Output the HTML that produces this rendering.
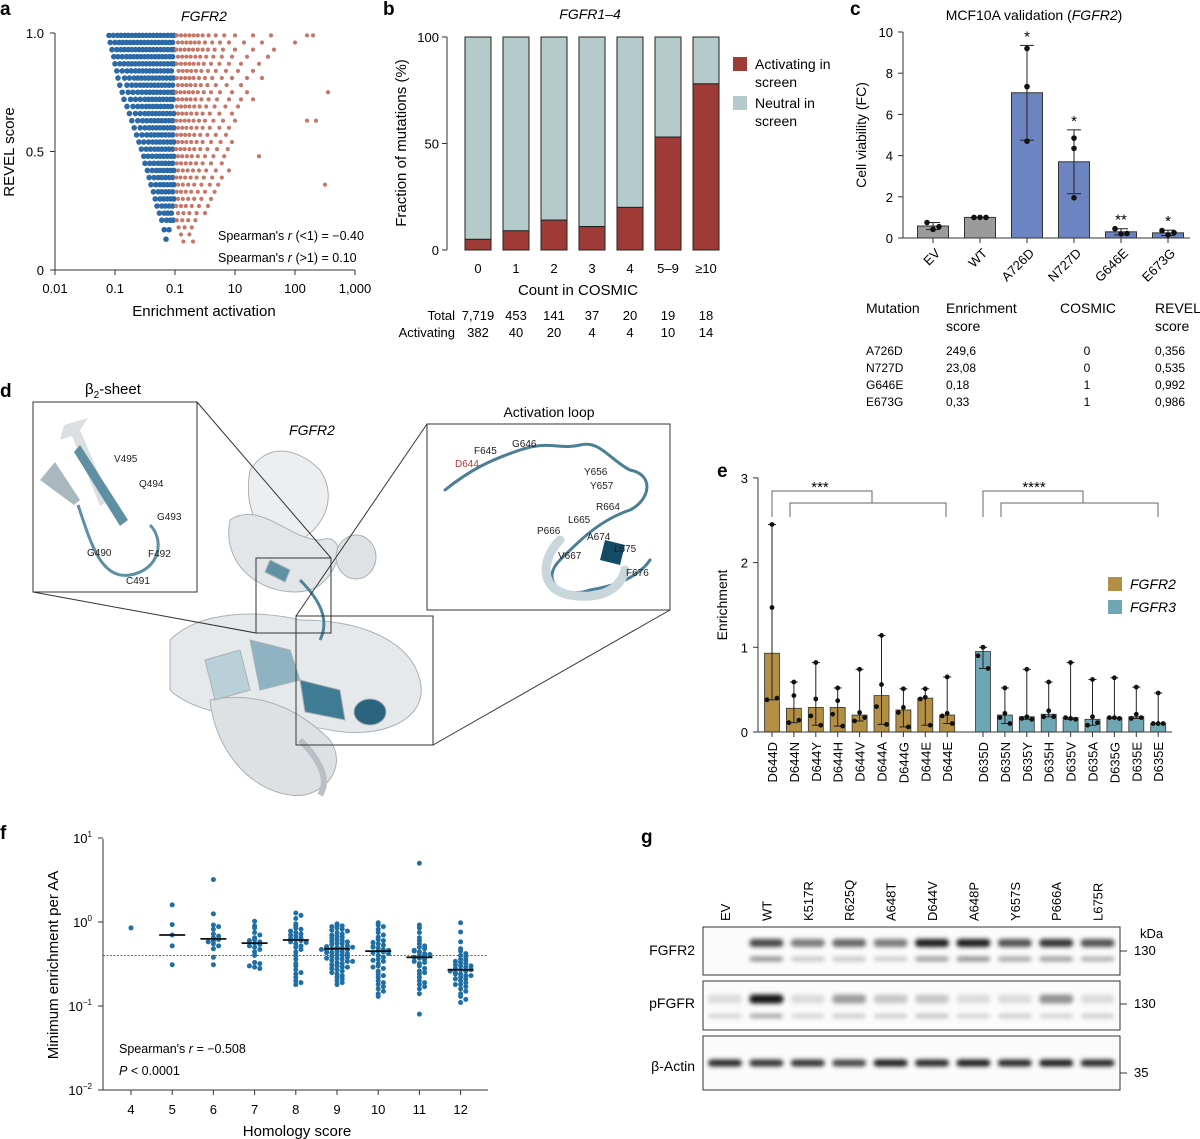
<!DOCTYPE html>
<html><head><meta charset="utf-8"><style>
html,body{margin:0;padding:0;background:#fff;}
svg{display:block;font-family:"Liberation Sans",sans-serif;}
</style></head><body>
<svg id="fig" width="1200" height="1139" viewBox="0 0 1200 1139" xmlns="http://www.w3.org/2000/svg">
<g id="pa"></g>
<g id="pb"></g>
<g id="pc"></g>
<g id="pd">
  <text x="0" y="397" font-size="19" font-weight="bold">d</text>
  <text x="85" y="394" font-size="15">β<tspan font-size="10" dy="4">2</tspan><tspan dy="-4">-sheet</tspan></text>
  <text x="312" y="435" font-size="14" font-style="italic" text-anchor="middle">FGFR2</text>
  <text x="549" y="417" font-size="14" text-anchor="middle">Activation loop</text>
  <g stroke="#a9b1b5" stroke-width="1">
    <path d="M250 470 C270 440 300 450 320 470 C340 500 320 530 300 540 C280 550 240 530 250 470Z" fill="#eceef0"/>
    <path d="M230 520 C260 500 290 540 320 540 C350 530 340 580 310 590 C270 600 220 570 230 520Z" fill="#e3e6e8"/>
    <ellipse cx="356" cy="557" rx="20" ry="22" fill="#dfe2e4"/>
    <path d="M170 640 C200 610 260 610 300 620 C360 620 410 640 420 680 C430 720 380 740 330 730 C280 720 200 720 170 690Z" fill="#e6e9eb"/>
    <path d="M210 700 C260 690 300 710 330 740 C350 770 320 800 290 795 C250 790 215 750 210 700Z" fill="#dde1e4"/>
    <path d="M250 640 L290 650 L300 680 L260 690Z" fill="#8fb3c2"/>
    <path d="M300 680 L340 690 L345 720 L305 712Z" fill="#3f7c94"/>
    <ellipse cx="370" cy="712" rx="16" ry="13" fill="#2a647d"/>
    <path d="M270 560 L290 570 L285 582 L265 572Z" fill="#5f91a5"/>
    <path d="M205 660 L240 650 L250 690 L215 700Z" fill="#b9d0d9"/>
    <path d="M300 740 C320 760 330 780 320 795" fill="none" stroke="#b7c0c4" stroke-width="6"/>
    <path d="M300 580 C320 600 330 620 320 640" fill="none" stroke="#4e8499" stroke-width="3"/>
  </g>
  <g fill="none" stroke="#333" stroke-width="1">
    <rect x="33" y="402" width="164" height="190"/>
    <rect x="427" y="424" width="243" height="186"/>
    <rect x="256" y="558" width="75" height="75"/>
    <rect x="296" y="616" width="137" height="129"/>
    <line x1="197" y1="402" x2="331" y2="558"/><line x1="33" y1="592" x2="256" y2="633"/>
    <line x1="427" y1="424" x2="296" y2="616"/><line x1="670" y1="610" x2="433" y2="745"/>
  </g>
  <g>
    <path d="M64 425 L88 418 L80 430 L110 500 L100 506 L72 436 L60 440Z" fill="#dcdfe1"/>
    <path d="M80 445 L128 520 L120 526 L74 452Z" fill="#5f8fa2"/>
    <path d="M40 480 L55 462 L80 500 L74 505 Z" fill="#a9b8bf"/>
    <path d="M78 505 C90 540 100 580 130 575 C160 570 165 540 150 525" fill="none" stroke="#5f8fa2" stroke-width="3"/>
  </g>
  <g font-size="10" fill="#222">
    <text x="114" y="462">V495</text><text x="139" y="487">Q494</text><text x="157" y="520">G493</text>
    <text x="87" y="556">G490</text><text x="148" y="557">F492</text><text x="126" y="584">C491</text>
  </g>
  <g fill="none" stroke-linecap="round">
    <path d="M445 490 C470 470 490 460 520 450 C550 440 560 450 580 445 C600 440 610 460 630 470 C655 475 650 500 630 510 C600 520 580 540 560 560 C540 580 560 600 590 590 C620 585 640 575 650 560" stroke="#4a7f95" stroke-width="3"/>
    <path d="M560 540 C540 560 540 590 570 595 C600 600 620 590 625 570" stroke="#c9d6dc" stroke-width="9"/>
    <path d="M605 540 L625 545 L620 565 L600 560Z" fill="#124b63" stroke="none"/>
  </g>
  <g font-size="10" fill="#222">
    <text x="474" y="454">F645</text><text x="512" y="447">G646</text><text x="455" y="467" fill="#b03a35">D644</text>
    <text x="584" y="475">Y656</text><text x="590" y="489">Y657</text><text x="596" y="510">R664</text>
    <text x="568" y="523">L665</text><text x="537" y="534">P666</text><text x="587" y="540">A674</text>
    <text x="614" y="552">L675</text><text x="558" y="559">V667</text><text x="626" y="576">F676</text>
  </g>
</g>
<g id="pe"></g>
<g id="pf"></g>
<g id="pg"></g>
</svg>
<script>
// ===== Panel a data: rows of [REVEL score, [log10 enrichment values]] =====
const aBlueRows = [
[0.99,[-1.1,-1.03,-0.96,-0.9,-0.84,-0.78,-0.72,-0.66,-0.6,-0.54,-0.48,-0.42,-0.36,-0.3,-0.24,-0.18,-0.12,-0.06,-0.02]],
[0.96,[-1.08,-1.0,-0.93,-0.87,-0.81,-0.75,-0.69,-0.63,-0.57,-0.51,-0.45,-0.39,-0.33,-0.27,-0.21,-0.15,-0.09,-0.04]],
[0.93,[-1.05,-0.97,-0.9,-0.84,-0.78,-0.72,-0.66,-0.6,-0.54,-0.48,-0.42,-0.36,-0.3,-0.24,-0.18,-0.12,-0.06,-0.02]],
[0.90,[-1.02,-0.95,-0.88,-0.81,-0.75,-0.69,-0.63,-0.57,-0.51,-0.45,-0.39,-0.33,-0.27,-0.21,-0.15,-0.09,-0.04]],
[0.87,[-1.0,-0.92,-0.85,-0.78,-0.72,-0.66,-0.6,-0.54,-0.48,-0.42,-0.36,-0.3,-0.24,-0.18,-0.12,-0.06,-0.02]],
[0.84,[-0.97,-0.88,-0.8,-0.73,-0.66,-0.6,-0.54,-0.48,-0.42,-0.36,-0.3,-0.24,-0.18,-0.12,-0.06]],
[0.81,[-0.95,-0.84,-0.76,-0.68,-0.62,-0.56,-0.5,-0.44,-0.38,-0.32,-0.26,-0.2,-0.14,-0.08,-0.03]],
[0.78,[-0.92,-0.8,-0.72,-0.65,-0.58,-0.52,-0.46,-0.4,-0.34,-0.28,-0.22,-0.16,-0.1,-0.04]],
[0.75,[-0.88,-0.78,-0.7,-0.62,-0.55,-0.48,-0.42,-0.36,-0.3,-0.24,-0.18,-0.12,-0.06,-0.02]],
[0.72,[-0.85,-0.74,-0.66,-0.58,-0.5,-0.44,-0.38,-0.32,-0.26,-0.2,-0.14,-0.08,-0.03]],
[0.69,[-0.8,-0.7,-0.62,-0.55,-0.48,-0.42,-0.36,-0.3,-0.24,-0.18,-0.12,-0.06]],
[0.66,[-0.76,-0.66,-0.58,-0.5,-0.44,-0.38,-0.32,-0.26,-0.2,-0.14,-0.08,-0.02]],
[0.63,[-0.72,-0.62,-0.54,-0.47,-0.4,-0.34,-0.28,-0.22,-0.16,-0.1,-0.04]],
[0.60,[-0.68,-0.58,-0.5,-0.43,-0.37,-0.31,-0.25,-0.19,-0.13,-0.07,-0.02]],
[0.57,[-0.64,-0.55,-0.47,-0.4,-0.34,-0.28,-0.22,-0.16,-0.1,-0.04]],
[0.54,[-0.6,-0.52,-0.44,-0.37,-0.31,-0.25,-0.19,-0.13,-0.07,-0.02]],
[0.51,[-0.56,-0.48,-0.41,-0.34,-0.28,-0.22,-0.16,-0.1,-0.04]],
[0.48,[-0.52,-0.45,-0.38,-0.31,-0.25,-0.19,-0.13,-0.07,-0.02]],
[0.45,[-0.5,-0.42,-0.35,-0.28,-0.22,-0.16,-0.1,-0.04]],
[0.42,[-0.46,-0.38,-0.31,-0.25,-0.19,-0.13,-0.07,-0.02]],
[0.39,[-0.43,-0.35,-0.28,-0.22,-0.16,-0.1,-0.04]],
[0.36,[-0.4,-0.32,-0.25,-0.19,-0.13,-0.07,-0.02]],
[0.33,[-0.36,-0.28,-0.22,-0.16,-0.1,-0.04]],
[0.30,[-0.33,-0.25,-0.19,-0.13,-0.07,-0.02]],
[0.27,[-0.3,-0.22,-0.16,-0.1,-0.04]],
[0.24,[-0.26,-0.18,-0.12,-0.06]],
[0.21,[-0.22,-0.14,-0.08,-0.03]],
[0.17,[-0.18,-0.1]],
[0.13,[-0.15]]];
const aRedRows = [
[0.99,[0.03,0.1,0.17,0.24,0.31,0.38,0.46,0.56,0.68,0.82,1.0,1.3,1.6,2.2,2.3]],
[0.96,[0.05,0.12,0.19,0.26,0.33,0.4,0.5,0.62,0.75,0.9,1.15,1.45,2.0]],
[0.93,[0.02,0.09,0.16,0.23,0.3,0.38,0.46,0.55,0.66,0.8,1.0,1.3,1.65]],
[0.90,[0.05,0.12,0.19,0.26,0.34,0.42,0.52,0.64,0.78,0.95,1.2,1.55]],
[0.87,[0.03,0.1,0.17,0.24,0.31,0.39,0.48,0.6,0.74,0.9,1.1,1.4]],
[0.84,[0.06,0.13,0.2,0.27,0.35,0.44,0.55,0.68,0.85,1.05,1.3]],
[0.81,[0.03,0.1,0.17,0.24,0.31,0.4,0.5,0.62,0.78,0.95,1.2,1.45]],
[0.78,[0.05,0.12,0.19,0.26,0.34,0.43,0.54,0.68,0.86,1.1]],
[0.75,[0.02,0.09,0.16,0.23,0.3,0.38,0.48,0.6,0.75,0.95,1.2,2.55]],
[0.72,[0.05,0.12,0.19,0.26,0.34,0.44,0.56,0.7,0.9,1.1,1.3]],
[0.69,[0.03,0.1,0.17,0.24,0.32,0.41,0.52,0.66,0.84,1.05]],
[0.66,[0.05,0.12,0.19,0.27,0.36,0.46,0.58,0.74,0.95]],
[0.63,[0.02,0.09,0.16,0.23,0.31,0.4,0.5,0.64,0.8,1.0,2.2,2.35]],
[0.60,[0.05,0.12,0.19,0.27,0.36,0.46,0.58,0.74,0.9]],
[0.57,[0.03,0.1,0.17,0.24,0.32,0.42,0.54,0.68,0.85]],
[0.54,[0.05,0.12,0.19,0.27,0.36,0.46,0.6,0.76,0.95]],
[0.51,[0.02,0.09,0.16,0.24,0.32,0.42,0.54,0.7,0.88]],
[0.48,[0.05,0.12,0.2,0.28,0.38,0.5,0.64,0.82,1.4]],
[0.45,[0.03,0.1,0.18,0.26,0.35,0.46,0.6,0.78]],
[0.42,[0.05,0.13,0.21,0.3,0.4,0.52,0.68,0.9]],
[0.39,[0.02,0.09,0.17,0.26,0.36,0.48,0.62,0.78]],
[0.36,[0.05,0.13,0.22,0.32,0.44,0.58,0.72,2.5]],
[0.33,[0.03,0.1,0.18,0.27,0.38,0.5,0.66]],
[0.30,[0.05,0.13,0.22,0.32,0.44,0.6]],
[0.27,[0.02,0.1,0.18,0.28,0.4,0.55]],
[0.24,[0.05,0.14,0.24,0.36,0.5]],
[0.21,[0.03,0.12,0.22,0.34]],
[0.18,[0.06,0.16,0.28]],
[0.15,[0.1,0.24]],
[0.12,[0.14,0.3]]];
const aXTicks = [-2,-1,0,1,2,3];
const aXTickLabels = ["0.01","0.1","0.1","10","100","1,000"];
const aYTicks = [0,0.5,1];
const aYTickLabels = ["0","0.5","1.0"];
// ===== Panel b data =====
const bCats = ["0","1","2","3","4","5–9","≥10"];
const bActivating = [5,9,14,11,20,53,78];
const bTotals = ["7,719","453","141","37","20","19","18"];
const bActCounts = ["382","40","20","4","4","10","14"];
// ===== Panel c data =====
const cCats = ["EV","WT","A726D","N727D","G646E","E673G"];
const cMeans = [0.58,1.0,7.05,3.7,0.3,0.25];
const cPoints = [[0.75,0.42,0.55],[1.0,1.0,1.0],[9.2,7.35,4.7],[4.85,4.35,1.95],[0.45,0.2,0.22],[0.36,0.15,0.26]];
const cErr = [0.17,0,2.3,1.55,0.15,0.13];
const cSig = ["","","*","*","**","*"];
const cIsControl = [true,true,false,false,false,false];
const cTableRows = [["A726D","249,6","0","0,356"],["N727D","23,08","0","0,535"],["G646E","0,18","1","0,992"],["E673G","0,33","1","0,986"]];
// ===== Panel e data =====
const eCats2 = ["D644D","D644N","D644Y","D644H","D644V","D644A","D644G","D644E","D644E"];
const eMeans2 = [0.93,0.28,0.29,0.29,0.2,0.43,0.26,0.4,0.2];
const ePts2 = [[2.45,1.47,0.38,0.4],[0.59,0.43,0.11,0.14],[0.82,0.39,0.19,0.08],[0.52,0.37,0.21,0.07],[0.74,0.23,0.13,0.17],[1.14,0.56,0.3,0.09],[0.51,0.29,0.23,0.06],[0.51,0.41,0.39,0.08],[0.65,0.22,0.19,0.1]];
const eCats3 = ["D635D","D635N","D635Y","D635H","D635V","D635A","D635G","D635E","D635E"];
const eMeans3 = [0.95,0.2,0.18,0.21,0.17,0.15,0.17,0.18,0.1];
const ePts3 = [[1.0,1.0,0.9,0.75],[0.52,0.22,0.17,0.1],[0.74,0.18,0.16,0.15],[0.59,0.25,0.18,0.18],[0.82,0.16,0.17,0.15],[0.62,0.18,0.08,0.11],[0.64,0.17,0.17,0.16],[0.53,0.21,0.16,0.17],[0.46,0.1,0.1,0.1]];
// ===== Panel f data =====
const fCats = [4,5,6,7,8,9,10,11,12];
const fVals = [
[0.85],
[1.6,0.93,0.7,0.52,0.31],
[3.2,1.25,0.92,0.88,0.82,0.72,0.65,0.6,0.55,0.52,0.62,0.48,0.38,0.31,0.68,0.58],
[1.02,0.9,0.85,0.75,0.7,0.65,0.62,0.58,0.56,0.54,0.5,0.47,0.44,0.4,0.33,0.32,0.29,0.28,0.3,0.6,0.52],
[1.28,1.2,1.1,0.95,0.9,0.85,0.82,0.78,0.75,0.72,0.7,0.68,0.65,0.62,0.6,0.58,0.55,0.52,0.5,0.47,0.44,0.4,0.36,0.32,0.3,0.27,0.25,0.22,0.2,0.18,0.19,0.24,0.64,0.57],
[0.95,0.92,0.9,0.88,0.85,0.82,0.8,0.78,0.75,0.72,0.7,0.68,0.66,0.64,0.62,0.6,0.59,0.58,0.56,0.55,0.54,0.52,0.51,0.5,0.49,0.48,0.47,0.46,0.45,0.44,0.43,0.42,0.41,0.4,0.39,0.38,0.37,0.36,0.35,0.34,0.33,0.32,0.31,0.3,0.29,0.28,0.27,0.26,0.25,0.24,0.23,0.22,0.21,0.2,0.19,0.18,0.5,0.47,0.43,0.37,0.34,0.29],
[0.98,0.92,0.88,0.82,0.75,0.7,0.66,0.62,0.6,0.57,0.55,0.53,0.51,0.49,0.47,0.45,0.44,0.43,0.42,0.4,0.38,0.36,0.34,0.32,0.3,0.28,0.26,0.24,0.22,0.2,0.19,0.18,0.17,0.16,0.15,0.14,0.13,0.5,0.46,0.35,0.29,0.23],
[5.0,0.92,0.85,0.75,0.65,0.6,0.55,0.52,0.5,0.48,0.46,0.44,0.42,0.4,0.39,0.38,0.37,0.36,0.34,0.32,0.3,0.28,0.26,0.24,0.22,0.2,0.19,0.18,0.17,0.16,0.14,0.08,0.45,0.41,0.33,0.25],
[0.98,0.76,0.58,0.48,0.45,0.42,0.4,0.38,0.36,0.35,0.34,0.33,0.32,0.31,0.3,0.29,0.28,0.27,0.26,0.25,0.24,0.23,0.22,0.21,0.2,0.19,0.18,0.17,0.16,0.15,0.14,0.13,0.12,0.11,0.3,0.27,0.24,0.21,0.18,0.26,0.23]];
const fMedians = [null,0.7,0.63,0.56,0.61,0.48,0.45,0.38,0.27];
const fThreshold = 0.4;
const fYTickExp = [1,0,-1,-2];
// ===== Panel g data =====
const gLanes = ["EV","WT","K517R","R625Q","A648T","D644V","A648P","Y657S","P666A","L675R"];
const gFGFR2Top = [0,0.75,0.5,0.6,0.5,0.95,0.95,0.7,0.85,0.7];
const gFGFR2Low = [0,0.4,0.15,0.15,0.12,0.35,0.4,0.3,0.35,0.25];
const gPFGFR = [0.05,1.0,0.05,0.35,0.15,0.15,0.05,0.05,0.4,0.05];
const gPFGFRLow = [0.12,0.35,0.1,0.15,0.15,0.2,0.12,0.15,0.12,0.15];
const gActin = [0.9,0.85,0.85,0.75,0.95,0.9,0.95,0.9,0.95,0.9];

const NS="http://www.w3.org/2000/svg";
function mk(parent,tag,attrs,text){const e=document.createElementNS(NS,tag);for(const k in attrs)e.setAttribute(k,attrs[k]);if(text!==undefined)e.textContent=text;parent.appendChild(e);return e;}

// ---------- Panel a ----------
(function(){
const g=document.getElementById('pa');
const X=lx=>55+(lx+2)*60, Y=v=>270-v*237;
let t=mk(g,'text',{x:0,y:15,'font-size':19,'font-weight':'bold'},'a');


t=mk(g,'text',{x:204,y:21,'font-size':14,'font-style':'italic','text-anchor':'middle'},'FGFR2');


aBlueRows.forEach(row=>row[1].forEach(lx=>{const c=mk(g,'circle',{cx:X(lx),cy:Y(row[0]),r:2.8,fill:'#2b6aa8'});

}));
aRedRows.forEach(row=>row[1].forEach(lx=>{const c=mk(g,'circle',{cx:X(lx),cy:Y(row[0]),r:2.1,fill:'#c87767'});

}));
mk(g,'line',{x1:55,y1:33,x2:55,y2:270,stroke:'#333'});
mk(g,'line',{x1:55,y1:270,x2:355,y2:270,stroke:'#333'});
aXTicks.forEach((v,i)=>{mk(g,'line',{x1:X(v),x2:X(v),y1:270,y2:275,stroke:'#333'});
const l=mk(g,'text',{x:X(v),y:293,'font-size':13,'text-anchor':'middle'},aXTickLabels[i]);

});
aYTicks.forEach((v,i)=>{mk(g,'line',{x1:50,x2:55,y1:Y(v),y2:Y(v),stroke:'#333'});
const l=mk(g,'text',{x:44,y:Y(v)+5,'font-size':13,'text-anchor':'end'},aYTickLabels[i]);

});
t=mk(g,'text',{x:204,y:316,'font-size':15,'text-anchor':'middle'},'Enrichment activation');


t=mk(g,'text',{x:14,y:152,'font-size':15,'text-anchor':'middle',transform:'rotate(-90 14 152)'},'REVEL score');


t=mk(g,'text',{x:218,y:240,'font-size':12.5});t.innerHTML="Spearman's <tspan font-style='italic'>r</tspan> (&lt;1) = −0.40";


t=mk(g,'text',{x:218,y:262,'font-size':12.5});t.innerHTML="Spearman's <tspan font-style='italic'>r</tspan> (&gt;1) = 0.10";


})();

// ---------- Panel b ----------
(function(){
const g=document.getElementById('pb');
const X=i=>478+i*38, Y=v=>250-v*2.13, W=26;
let t=mk(g,'text',{x:383,y:15,'font-size':19,'font-weight':'bold'},'b');


t=mk(g,'text',{x:590,y:19,'font-size':14,'font-style':'italic','text-anchor':'middle'},'FGFR1–4');


bCats.forEach((c,i)=>{
 const r1=mk(g,'rect',{x:X(i)-W/2,y:Y(100),width:W,height:Y(bActivating[i])-Y(100),fill:'#b5cbcb',stroke:'#222','stroke-width':1});
 
 
 const r2=mk(g,'rect',{x:X(i)-W/2,y:Y(bActivating[i]),width:W,height:Y(0)-Y(bActivating[i]),fill:'#9e3b36',stroke:'#222','stroke-width':1});
 
 
 let l=mk(g,'text',{x:X(i),y:273,'font-size':13,'text-anchor':'middle'},c);
 
 
 l=mk(g,'text',{x:X(i),y:320,'font-size':13,'text-anchor':'middle'},bTotals[i]);
 
 
 l=mk(g,'text',{x:X(i),y:337,'font-size':13,'text-anchor':'middle'},bActCounts[i]);
 
 
});
mk(g,'line',{x1:447,y1:37,x2:447,y2:250,stroke:'#333'});
[0,50,100].forEach(v=>{mk(g,'line',{x1:442,x2:447,y1:Y(v),y2:Y(v),stroke:'#333'});
 const l=mk(g,'text',{x:439,y:Y(v)+5,'font-size':13,'text-anchor':'end'},String(v));
 
 });
t=mk(g,'text',{x:578,y:295,'font-size':15,'text-anchor':'middle'},'Count in COSMIC');


t=mk(g,'text',{x:406,y:143,'font-size':15,'text-anchor':'middle',transform:'rotate(-90 406 143)'},'Fraction of mutations (%)');


t=mk(g,'text',{x:455,y:320,'font-size':13,'text-anchor':'end'},'Total');


t=mk(g,'text',{x:455,y:337,'font-size':13,'text-anchor':'end'},'Activating');


let s=mk(g,'rect',{x:733,y:57,width:14,height:14,fill:'#9e3b36'});


s=mk(g,'rect',{x:733,y:96,width:14,height:14,fill:'#b5cbcb'});


[['Activating in',69],['screen',87],['Neutral in',108],['screen',126]].forEach(a=>{const l=mk(g,'text',{x:755,y:a[1],'font-size':14},a[0]);
 
 });
})();

// ---------- Panel c ----------
(function(){
const g=document.getElementById('pc');
const X=i=>933+i*47, Y=v=>238-v*20.6, W=31;
let t=mk(g,'text',{x:850,y:15,'font-size':19,'font-weight':'bold'},'c');


t=mk(g,'text',{x:1034,y:20,'font-size':14,'text-anchor':'middle'});t.innerHTML="MCF10A validation (<tspan font-style='italic'>FGFR2</tspan>)";


cCats.forEach((c,i)=>{
 const r=mk(g,'rect',{x:X(i)-W/2,y:Y(cMeans[i]),width:W,height:Y(0)-Y(cMeans[i]),fill:cIsControl[i]?'#9b9b9b':'#6c84c2',stroke:'#333','stroke-width':1});
 
 
 if(cErr[i]>0){const hi=Y(cMeans[i]+cErr[i]),lo=Y(cMeans[i]-cErr[i]);
  mk(g,'line',{x1:X(i),x2:X(i),y1:hi,y2:lo,stroke:'#222'});
  mk(g,'line',{x1:X(i)-7,x2:X(i)+7,y1:hi,y2:hi,stroke:'#222'});
  mk(g,'line',{x1:X(i)-7,x2:X(i)+7,y1:lo,y2:lo,stroke:'#222'});}
 cPoints[i].forEach((v,k)=>{const p=mk(g,'circle',{cx:X(i)+(cPoints[i].length>1&&(i<2||i>3)?(k-1)*6:0),cy:Y(v),r:2.8,fill:'#111'});
  
  });
 if(cSig[i]){const s=mk(g,'text',{x:X(i),y:Y(cMeans[i]+cErr[i])-4,'font-size':15,'text-anchor':'middle'},cSig[i]);
  
  }
 mk(g,'line',{x1:X(i),x2:X(i),y1:238,y2:243,stroke:'#333'});
 const l=mk(g,'text',{x:X(i)+8,y:254,'font-size':13,'text-anchor':'end',transform:`rotate(-45 ${X(i)+8} 254)`},c);
 
 
});
mk(g,'line',{x1:903,y1:32,x2:903,y2:238,stroke:'#333'});
mk(g,'line',{x1:903,y1:238,x2:1190,y2:238,stroke:'#333'});
[0,2,4,6,8,10].forEach(v=>{mk(g,'line',{x1:898,x2:903,y1:Y(v),y2:Y(v),stroke:'#333'});
 const l=mk(g,'text',{x:893,y:Y(v)+5,'font-size':13,'text-anchor':'end'},String(v));
 
 });
t=mk(g,'text',{x:866,y:135,'font-size':14,'text-anchor':'middle',transform:'rotate(-90 866 135)'},'Cell viability (FC)');


[['Mutation',866,313],['Enrichment',946,313],['score',946,331],['COSMIC',1060,313],['REVEL',1155,313],['score',1155,331]].forEach(a=>{
 const l=mk(g,'text',{x:a[1],y:a[2],'font-size':14},a[0]);
 
 });
const cols=[866,946,1087,1155];
cTableRows.forEach((row,r)=>row.forEach((v,k)=>{const l=mk(g,'text',{x:cols[k],y:355+r*17,'font-size':12,'text-anchor':k==2?'middle':'start'},v);
 
 }));
})();

// ---------- Panel e ----------
(function(){
const g=document.getElementById('pe');
const Y=v=>732-v*84.7;
let t=mk(g,'text',{x:717,y:477,'font-size':19,'font-weight':'bold'},'e');


function draw(cats,means,pts,x0,color,name){
 cats.forEach((c,i)=>{const x=x0+i*21.9, W=15;
  const r=mk(g,'rect',{x:x-W/2,y:Y(means[i]),width:W,height:Y(0)-Y(means[i]),fill:color,stroke:'#333','stroke-width':0.8});
  
  
  const mx=Math.max(...pts[i]),mn=Math.min(...pts[i]);
  mk(g,'line',{x1:x,x2:x,y1:Y(mx),y2:Y(mn),stroke:'#222'});
  mk(g,'line',{x1:x-4,x2:x+4,y1:Y(mx),y2:Y(mx),stroke:'#222'});
  mk(g,'line',{x1:x-4,x2:x+4,y1:Y(mn),y2:Y(mn),stroke:'#222'});
  pts[i].forEach((v,k)=>{const p=mk(g,'circle',{cx:x+[0,0,-5,5][k],cy:Y(v),r:2.4,fill:'#111'});
   
   });
  mk(g,'line',{x1:x,x2:x,y1:732,y2:737,stroke:'#333'});
  const l=mk(g,'text',{x:x+5,y:742,'font-size':13,'text-anchor':'end',transform:`rotate(-90 ${x+5} 742)`},c);
  
  
 });
}
draw(eCats2,eMeans2,ePts2,772,'#b38f45','fgfr2');
draw(eCats3,eMeans3,ePts3,983,'#6fa6b3','fgfr3');
mk(g,'line',{x1:758,y1:478,x2:758,y2:732,stroke:'#333'});
mk(g,'line',{x1:758,y1:732,x2:1172,y2:732,stroke:'#333'});
[0,1,2,3].forEach(v=>{mk(g,'line',{x1:753,x2:758,y1:Y(v),y2:Y(v),stroke:'#333'});
 const l=mk(g,'text',{x:748,y:Y(v)+5,'font-size':13,'text-anchor':'end'},String(v));
 
 });
t=mk(g,'text',{x:727,y:605,'font-size':14,'text-anchor':'middle',transform:'rotate(-90 727 605)'},'Enrichment');


const br='fill:none;stroke:#666;stroke-width:1';
mk(g,'path',{d:'M772 517 V491 H872 V503',style:br});
mk(g,'path',{d:'M790 517 V503 H946 V517',style:br});
mk(g,'path',{d:'M983 517 V491 H1083 V503',style:br});
mk(g,'path',{d:'M1001 517 V503 H1158 V517',style:br});
t=mk(g,'text',{x:820,y:492,'font-size':15,'text-anchor':'middle'},'***');


t=mk(g,'text',{x:1034,y:492,'font-size':15,'text-anchor':'middle'},'****');


let s=mk(g,'rect',{x:1108,y:577,width:14,height:14,fill:'#b38f45'});


s=mk(g,'rect',{x:1108,y:600,width:14,height:14,fill:'#6fa6b3'});


t=mk(g,'text',{x:1130,y:589,'font-size':14,'font-style':'italic'},'FGFR2');


t=mk(g,'text',{x:1130,y:612,'font-size':14,'font-style':'italic'},'FGFR3');


})();

// ---------- Panel f ----------
(function(){
const g=document.getElementById('pf');
const X=c=>131+(c-4)*41.2, Y=v=>922-Math.log10(v)*84;
let t=mk(g,'text',{x:0,y:839,'font-size':19,'font-weight':'bold'},'f');


mk(g,'line',{x1:103,y1:Y(fThreshold),x2:488,y2:Y(fThreshold),stroke:'#555','stroke-dasharray':'2,1.5','stroke-width':0.8});
fCats.forEach((c,i)=>{
 const bins={};
 fVals[i].forEach(v=>{const b=Math.round(Math.log10(v)/0.045);const k=bins[b]||0;bins[b]=k+1;
  const off=k==0?0:(k%2?1:-1)*Math.ceil(k/2)*5.2;
  const p=mk(g,'circle',{cx:X(c)+off,cy:Y(v),r:2.5,fill:'#1f6fa5'});
  
  });
 if(fMedians[i]){const m=mk(g,'line',{x1:X(c)-13,x2:X(c)+13,y1:Y(fMedians[i]),y2:Y(fMedians[i]),stroke:'#111','stroke-width':1.8});
  
  }
 mk(g,'line',{x1:X(c),x2:X(c),y1:1090,y2:1095,stroke:'#333'});
 const l=mk(g,'text',{x:X(c),y:1114,'font-size':13,'text-anchor':'middle'},String(c));
 
 
});
mk(g,'line',{x1:103,y1:839,x2:103,y2:1090,stroke:'#333'});
mk(g,'line',{x1:98,y1:1090,x2:488,y2:1090,stroke:'#333'});
fYTickExp.forEach(e=>{const y=Y(Math.pow(10,e));mk(g,'line',{x1:98,x2:103,y1:y,y2:y,stroke:'#333'});
 const l=mk(g,'text',{x:92,y:y+5,'font-size':13,'text-anchor':'end'});l.innerHTML=`10<tspan font-size="8" dy="-6">${e<0?'−'+(-e):e}</tspan>`;
 
 });
t=mk(g,'text',{x:297,y:1136,'font-size':15,'text-anchor':'middle'},'Homology score');


t=mk(g,'text',{x:58,y:965,'font-size':15,'text-anchor':'middle',transform:'rotate(-90 58 965)'},'Minimum enrichment per AA');


t=mk(g,'text',{x:119,y:1053,'font-size':12.5});t.innerHTML="Spearman's <tspan font-style='italic'>r</tspan> = −0.508";


t=mk(g,'text',{x:119,y:1075,'font-size':12.5});t.innerHTML="<tspan font-style='italic'>P</tspan> &lt; 0.0001";


})();

// ---------- Panel g ----------
(function(){
const g=document.getElementById('pg');
const X=i=>725+i*41.4;
let t=mk(g,'text',{x:641,y:843,'font-size':19,'font-weight':'bold'},'g');


const defs=mk(g,'defs',{});
const f=mk(defs,'filter',{id:'blur',x:'-20%',y:'-100%',width:'140%',height:'300%'});mk(f,'feGaussianBlur',{stdDeviation:'2.2'});
const rows=[[927,48],[981,49],[1036,54]];
rows.forEach((r,k)=>{const b=mk(g,'rect',{x:703,y:r[0],width:417,height:r[1],fill:'#fbfbfb',stroke:'#333','stroke-width':1});
 
 });
function band(i,cy,h,val,name){if(val<=0.02)return;const c=Math.round(230-val*210);
 const e=mk(g,'rect',{x:X(i)-17,y:cy-h/2,width:34,height:h,rx:4,fill:`rgb(${c},${c},${c})`,filter:'url(#blur)'});
 
 }
gLanes.forEach((ln,i)=>{
 band(i,943,8,gFGFR2Top[i],'band-fgfr2');
 band(i,959,5,gFGFR2Low[i],'band-fgfr2-lower');
 band(i,999,9,gPFGFR[i],'band-pfgfr');
 band(i,1016,4,gPFGFRLow[i],'band-pfgfr-lower');
 band(i,1063,7,gActin[i],'band-actin');
 const l=mk(g,'text',{x:X(i)+5,y:921,'font-size':13,'text-anchor':'start',transform:`rotate(-90 ${X(i)+5} 921)`},ln);
 
 
});
[['FGFR2',695,955],['pFGFR',695,1008],['β-Actin',695,1071]].forEach(a=>{const l=mk(g,'text',{x:a[1],y:a[2],'font-size':14,'text-anchor':'end'},a[0]);
 
 });
t=mk(g,'text',{x:1140,y:938,'font-size':13},'kDa');


[[955,'130'],[1008,'130'],[1077,'35']].forEach(a=>{mk(g,'line',{x1:1120,x2:1127,y1:a[0]-4,y2:a[0]-4,stroke:'#333'});
 const l=mk(g,'text',{x:1134,y:a[0],'font-size':13},a[1]);
 
 });
})();
</script>
</body></html>
